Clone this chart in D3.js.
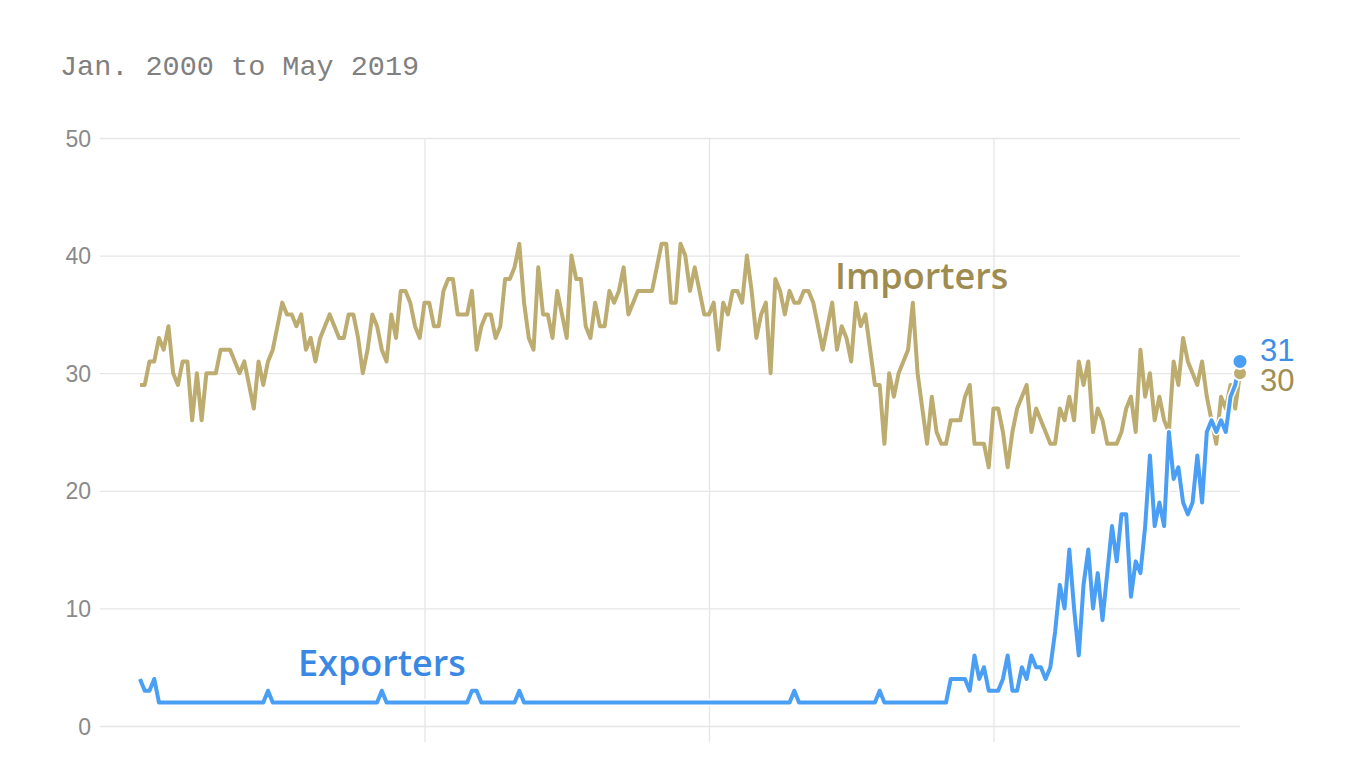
<!DOCTYPE html>
<html>
<head>
<meta charset="utf-8">
<script src="https://cdn.jsdelivr.net/npm/d3@7"></script>
<style>
  html, body { margin: 0; padding: 0; background: #fff; }
  svg { display: block; }
</style>
</head>
<body>
<svg id="chart" width="1366" height="768"></svg>
<script>
// Monthly series, Jan. 2000 to May 2019
const startMonth = "2000-01";
const endMonth = "2019-05";

const importers = [
  29,29,31,31,33,32,34,30,29,31,31,26,30,26,30,30,30,32,32,32,31,30,31,29,
  27,31,29,31,32,34,36,35,35,34,35,32,33,31,33,34,35,34,33,33,35,35,33,30,
  32,35,34,32,31,35,33,37,37,36,34,33,36,36,34,34,37,38,38,35,35,35,37,32,
  34,35,35,33,34,38,38,39,41,36,33,32,39,35,35,33,37,35,33,40,38,38,34,33,
  36,34,34,37,36,37,39,35,36,37,37,37,37,39,41,41,36,36,41,40,37,39,37,35,
  35,36,32,36,35,37,37,36,40,37,33,35,36,30,38,37,35,37,36,36,37,37,36,34,
  32,34,36,32,34,33,31,36,34,35,32,29,29,24,30,28,30,31,32,36,30,27,24,28,
  25,24,24,26,26,26,28,29,24,24,24,22,27,27,25,22,25,27,28,29,25,27,26,25,
  24,24,27,26,28,26,31,29,31,25,27,26,24,24,24,25,27,28,25,32,28,30,26,28,
  26,25,31,29,33,31,30,29,31,28,26,24,28,27,29,27,30
];

const exporters = [
  4,3,3,4,2,2,2,2,2,2,2,2,2,2,2,2,2,2,2,2,2,2,2,2,
  2,2,2,3,2,2,2,2,2,2,2,2,2,2,2,2,2,2,2,2,2,2,2,2,
  2,2,2,3,2,2,2,2,2,2,2,2,2,2,2,2,2,2,2,2,2,2,3,3,
  2,2,2,2,2,2,2,2,3,2,2,2,2,2,2,2,2,2,2,2,2,2,2,2,
  2,2,2,2,2,2,2,2,2,2,2,2,2,2,2,2,2,2,2,2,2,2,2,2,
  2,2,2,2,2,2,2,2,2,2,2,2,2,2,2,2,2,2,3,2,2,2,2,2,
  2,2,2,2,2,2,2,2,2,2,2,2,3,2,2,2,2,2,2,2,2,2,2,2,
  2,2,2,4,4,4,4,3,6,4,5,3,3,3,4,6,3,3,5,4,6,5,5,4,
  5,8,12,10,15,10,6,12,15,10,13,9,13,17,14,18,18,11,14,13,17,23,17,19,
  17,25,21,22,19,18,19,23,19,25,26,25,26,25,28,29,31
];

const yTicks = [0, 10, 20, 30, 40, 50];
const xGridYears = ["2005-01", "2010-01", "2015-01"];
const subtitle = "Jan. 2000 to May 2019";
const seriesLabels = ["Importers", "Exporters"];

const parseMonth = d3.timeParse("%Y-%m");
const start = parseMonth(startMonth);
const months = d3.timeMonth.range(start, d3.timeMonth.offset(parseMonth(endMonth), 1));
const monthIndex = d => d3.timeMonth.count(start, d);

const impData = months.map((d, i) => ({ date: d, value: importers[i] }));
const expData = months.map((d, i) => ({ date: d, value: exporters[i] }));

const svg = d3.select("#chart");

// monthly index scale (equal spacing per month)
const xm = d3.scaleLinear()
  .domain([0, months.length - 1])
  .range([140, 1240]);
const x = d => xm(monthIndex(d));

const y = d3.scaleLinear()
  .domain([0, 50])
  .range([726, 138]);

// Subtitle
svg.append("text")
  .attr("x", 60)
  .attr("y", 75)
  .attr("font-family", "'Liberation Mono', 'DejaVu Sans Mono', monospace")
  .attr("font-size", 28.5)
  .attr("fill", "#808080")
  .text(subtitle);

// Horizontal grid + y labels
const yAxis = d3.axisLeft(y)
  .tickValues(yTicks)
  .tickSize(-(1240 - 100))
  .tickPadding(8);

const gy = svg.append("g")
  .attr("transform", "translate(100,0)")
  .call(yAxis);
gy.select(".domain").remove();
gy.selectAll(".tick line").attr("stroke", "#e6e6e6").attr("stroke-width", 1.3);
gy.selectAll(".tick text")
  .attr("font-family", "'Liberation Sans', Arial, sans-serif")
  .attr("font-size", 23)
  .attr("fill", "#8a8a8a")
  .attr("x", -9)
  .attr("dy", "0.35em");

// Vertical grid lines
const xAxis = d3.axisBottom(xm)
  .tickValues(xGridYears.map(s => monthIndex(parseMonth(s))))
  .tickSize(-(742 - 138))
  .tickFormat("");
const gx = svg.append("g")
  .attr("transform", "translate(0,742)")
  .call(xAxis);
gx.select(".domain").remove();
gx.selectAll(".tick line").attr("stroke", "#e6e6e6").attr("stroke-width", 1.3);

const line = d3.line()
  .x(d => x(d.date))
  .y(d => y(d.value))
  .curve(d3.curveLinear);

const impColor = "#bdac70";
const expColor = "#4a9ff5";

svg.append("path")
  .datum(impData)
  .attr("fill", "none")
  .attr("stroke", impColor)
  .attr("stroke-width", 4)
  .attr("stroke-linejoin", "round")
  .attr("d", line);

svg.append("path")
  .datum(expData)
  .attr("fill", "none")
  .attr("stroke", "#fff")
  .attr("stroke-width", 7)
  .attr("stroke-linejoin", "round")
  .attr("d", line);

svg.append("path")
  .datum(expData)
  .attr("fill", "none")
  .attr("stroke", expColor)
  .attr("stroke-width", 4)
  .attr("stroke-linejoin", "round")
  .attr("d", line);

// End dots
const lastImp = impData[impData.length - 1];
const lastExp = expData[expData.length - 1];

svg.append("circle")
  .attr("cx", x(lastImp.date)).attr("cy", y(lastImp.value))
  .attr("r", 7).attr("fill", impColor).attr("stroke", "#fff").attr("stroke-width", 2);
svg.append("circle")
  .attr("cx", x(lastExp.date)).attr("cy", y(lastExp.value))
  .attr("r", 7.5).attr("fill", expColor).attr("stroke", "#fff").attr("stroke-width", 2);

// End values
svg.append("text")
  .attr("x", 1260).attr("y", 361)
  .attr("font-family", "'Liberation Sans', Arial, sans-serif")
  .attr("font-size", 31)
  .attr("fill", "#3d8fe6")
  .text(lastExp.value);
svg.append("text")
  .attr("x", 1260).attr("y", 391)
  .attr("font-family", "'Liberation Sans', Arial, sans-serif")
  .attr("font-size", 31)
  .attr("fill", "#a08e52")
  .text(lastImp.value);

// Series labels
svg.append("text")
  .attr("x", 835).attr("y", 289)
  .attr("font-family", "'Open Sans', sans-serif")
  .attr("font-weight", 600)
  .attr("font-size", 36)
  .attr("fill", "#9e8c50")
  .text(seriesLabels[0]);

svg.append("text")
  .attr("x", 298).attr("y", 676)
  .attr("font-family", "'Open Sans', sans-serif")
  .attr("font-weight", 600)
  .attr("font-size", 36)
  .attr("fill", "#3a88e4")
  .text(seriesLabels[1]);
</script>
</body>
</html>
